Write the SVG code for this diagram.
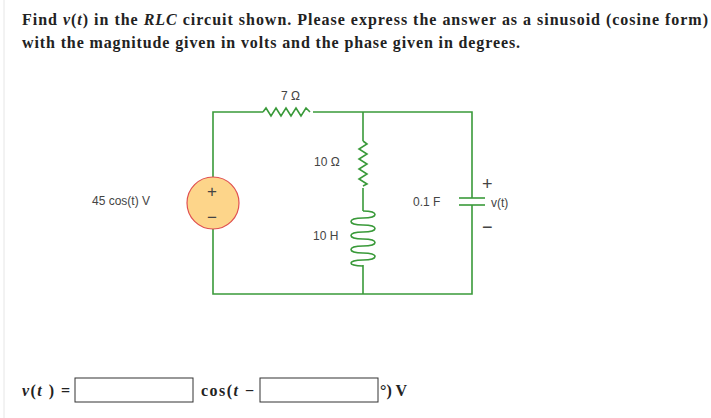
<svg xmlns="http://www.w3.org/2000/svg" width="711" height="418" viewBox="0 0 711 418">
<style>
.w{stroke:#3a9a3a;stroke-width:1.6;fill:none}
.lbl{font-family:"Liberation Sans",Arial,sans-serif;font-size:12px;fill:#444}
.q{font-family:"Liberation Serif","Times New Roman",serif;font-size:16px;font-weight:bold;fill:#222}
.box{fill:#fff;stroke:#333;stroke-width:1}
</style>
<rect width="711" height="418" fill="#fff"/>
<line x1="4" y1="0" x2="4" y2="418" stroke="#e6e6e6"/>
<text class="q" x="22" y="25" textLength="686" lengthAdjust="spacing">Find <tspan font-style="italic">v</tspan>(<tspan font-style="italic">t</tspan>) in the <tspan font-style="italic">RLC</tspan> circuit shown. Please express the answer as a sinusoid (cosine form)</text>
<text class="q" x="22" y="48" textLength="498" lengthAdjust="spacing">with the magnitude given in volts and the phase given in degrees.</text>
<g id="connectors">
<path class="w" d="M213,177 V112 H263 M313,112 H472 V198 M472,205 V294 H213 V229 M363,112 V141 M363,188 V211 M363,265 V294"/>
</g>
<g id="R1"><path class="w" d="M263,112 l3,-4 l5,8 l5,-8 l5,8 l5,-8 l5,8 l5,-8 l5,8 l5,-8 l4,4"/><text class="lbl" x="281" y="100">7 Ω</text></g>
<g id="R2"><path class="w" d="M363,141 l4,3 l-8,5 l8,5 l-8,5 l8,5 l-8,5 l8,5 l-8,5 l8,5 l-4,2"/><text class="lbl" x="314" y="166">10 Ω</text></g>
<g id="L1"><path class="w" d="M363,211 c16,0 16,7 0,7 c-16,0 -16,7 0,7 c16,0 16,7 0,7 c-16,0 -16,7 0,7 c16,0 16,7 0,7 c-16,0 -16,7 0,7 c16,0 16,7 0,7 c-16,0 -16,6 0,6" stroke-width="1.3"/><text class="lbl" x="313" y="240">10 H</text></g>
<g id="C1"><line class="w" x1="459" y1="198" x2="485" y2="198"/><line class="w" x1="459" y1="205" x2="485" y2="205"/><text class="lbl" x="413" y="206">0.1 F</text>
<text class="lbl" x="482" y="190" style="font-size:18px">+</text><text class="lbl" x="491" y="207">v(t)</text><text class="lbl" x="482" y="233" style="font-size:18px">−</text></g>
<g id="V1"><circle cx="213" cy="203" r="26" fill="#fdd58a" stroke="#e05050" stroke-width="1.2"/><text class="lbl" x="207" y="197" style="font-size:17px">+</text><text class="lbl" x="207" y="223" style="font-size:17px">−</text><text class="lbl" x="92" y="205">45 cos(t) V</text></g>
<text class="q" x="22" y="396" textLength="48" lengthAdjust="spacing"><tspan font-style="italic">v</tspan>(<tspan font-style="italic">t</tspan> ) =</text>
<rect class="box" x="75" y="378" width="118" height="24"/>
<text class="q" x="201" y="396" textLength="53" lengthAdjust="spacing">cos(<tspan font-style="italic">t</tspan> −</text>
<rect class="box" x="260" y="378" width="118" height="24"/>
<text class="q" x="380" y="396">°) V</text>
</svg>
